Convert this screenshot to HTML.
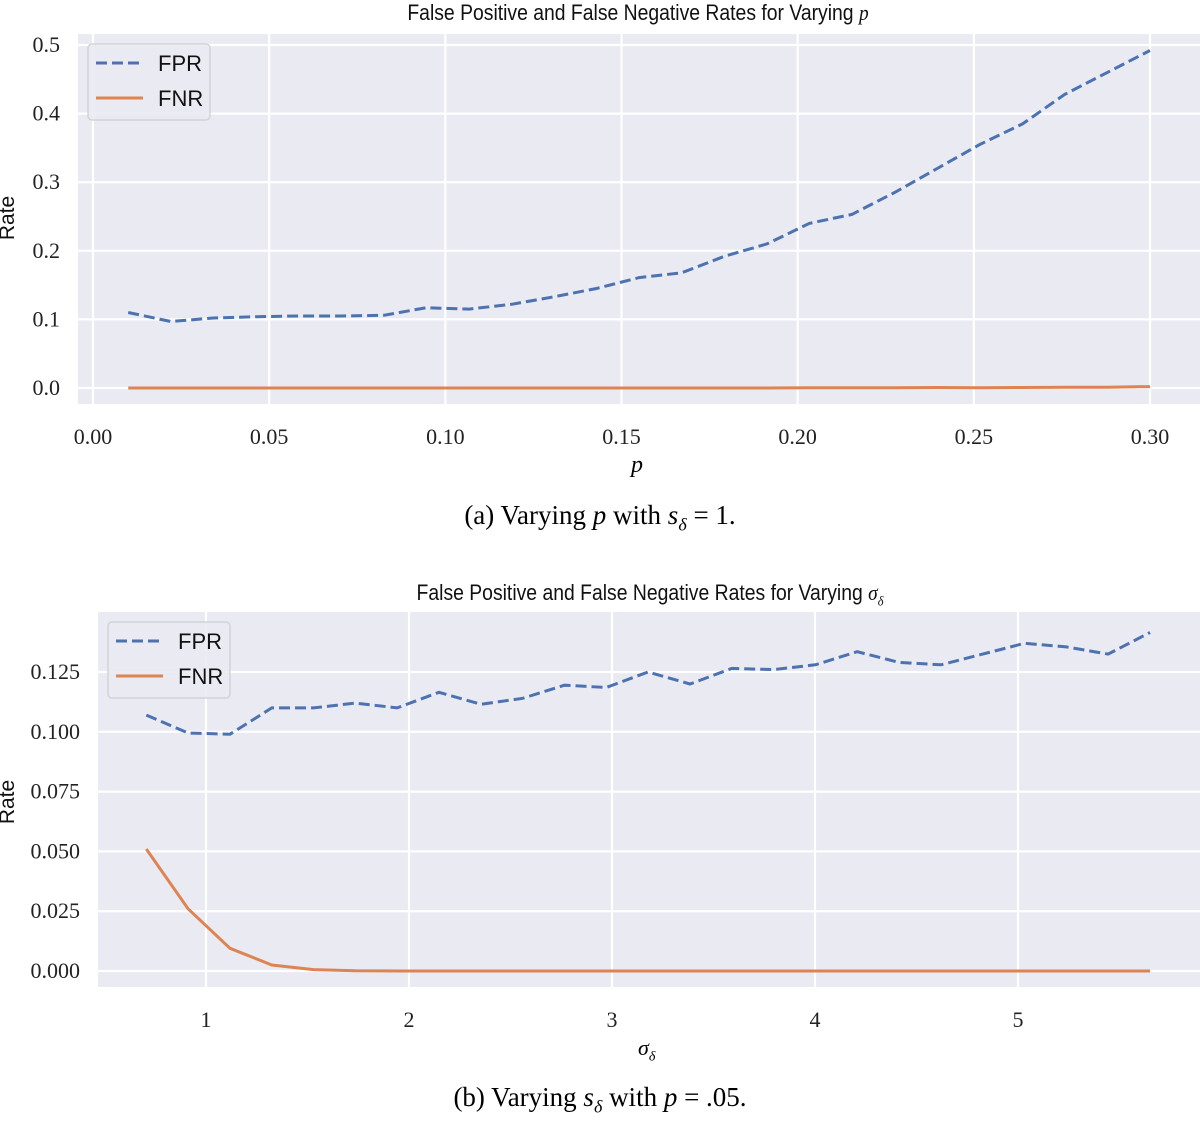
<!DOCTYPE html>
<html><head><meta charset="utf-8"><style>
body{margin:0;background:#fff;width:1200px;height:1117px;overflow:hidden}
svg text{font-family:"Liberation Serif",serif}
.sans{font-family:"Liberation Sans",sans-serif}
</style></head><body>
<svg id="svg" width="1200" height="1117" xmlns="http://www.w3.org/2000/svg"></svg>
<script>
// Chart A data
const aX=[0.01,0.0221,0.0342,0.0463,0.0583,0.0704,0.0825,0.0946,0.1067,0.1188,0.1308,0.1429,0.155,0.1671,0.1792,0.1913,0.2033,0.2154,0.2275,0.2396,0.2517,0.2638,0.2758,0.2879,0.30];
const aFPR=[0.110,0.097,0.102,0.104,0.105,0.105,0.106,0.117,0.115,0.122,0.133,0.145,0.161,0.168,0.192,0.210,0.240,0.253,0.285,0.320,0.355,0.385,0.428,0.460,0.492];
const aFNR=[0,0,0,0,0,0,0,0,0,0,0,0,0,0,0,0,0.0003,0.0003,0.0005,0.0008,0.0005,0.0008,0.001,0.0012,0.002];
const aXTicks=[0,0.05,0.10,0.15,0.20,0.25,0.30];
const aXLabels=["0.00","0.05","0.10","0.15","0.20","0.25","0.30"];
const aYTicks=[0,0.1,0.2,0.3,0.4,0.5];
const aYLabels=["0.0","0.1","0.2","0.3","0.4","0.5"];
// Chart B data
const bX=[0.706,0.912,1.118,1.324,1.530,1.736,1.942,2.148,2.354,2.560,2.766,2.972,3.178,3.384,3.590,3.796,4.002,4.208,4.414,4.620,4.826,5.032,5.238,5.444,5.650];
const bFPR=[0.107,0.0995,0.099,0.110,0.110,0.112,0.110,0.1165,0.1115,0.114,0.1195,0.1185,0.125,0.120,0.1265,0.126,0.128,0.1335,0.129,0.128,0.1325,0.137,0.1355,0.1325,0.1415];
const bFNR=[0.051,0.026,0.0095,0.0025,0.0006,0.0001,0,0,0,0,0,0,0,0,0,0,0,0,0,0,0,0,0,0,0];
const bXTicks=[1,2,3,4,5];
const bXLabels=["1","2","3","4","5"];
const bYTicks=[0,0.025,0.05,0.075,0.1,0.125];
const bYLabels=["0.000","0.025","0.050","0.075","0.100","0.125"];

const NS="http://www.w3.org/2000/svg";
const svg=document.getElementById('svg');
function mk(tag,attrs,parent,name){const e=document.createElementNS(NS,tag);for(const k in attrs)e.setAttribute(k,attrs[k]);(parent||svg).appendChild(e);


return e;}
function txt(s,attrs,name){const e=mk('text',attrs,svg,name);e.textContent=s;return e;}

function chart(o){
  const sx=v=>o.x0px+(v-o.x0)*(o.x1px-o.x0px)/(o.x1-o.x0);
  const sy=v=>o.y0px+(v-o.y0)*(o.y1px-o.y0px)/(o.y1-o.y0);
  mk('rect',{x:o.L,y:o.T,width:o.R-o.L,height:o.B-o.T,fill:'#eaeaf2'},svg,o.p+'plot-area');
  o.xt.forEach((t,i)=>{const x=sx(t);mk('line',{x1:x,x2:x,y1:o.T,y2:o.B,stroke:'#fff','stroke-width':2.2},svg,o.p+'x-grid');
    txt(o.xl[i],{x:x,y:o.B+40,'text-anchor':'middle','font-size':22,fill:'#222'},o.p+'x-tick-label');});
  o.yt.forEach((t,i)=>{const y=sy(t);mk('line',{x1:o.L,x2:o.R,y1:y,y2:y,stroke:'#fff','stroke-width':2.2},svg,o.p+'y-grid');
    txt(o.yl[i],{x:o.L-18,y:y+7,'text-anchor':'end','font-size':22,fill:'#222'},o.p+'y-tick-label');});
  const path=(xs,ys)=>xs.map((v,i)=>(i?'L':'M')+sx(v).toFixed(1)+','+sy(ys[i]).toFixed(1)).join(' ');
  mk('path',{d:path(o.xs,o.fnr),fill:'none',stroke:'#dd8452','stroke-width':3},svg,o.p+'fnr-line');
  mk('path',{d:path(o.xs,o.fpr),fill:'none',stroke:'#4c72b0','stroke-width':3,'stroke-dasharray':'11,5'},svg,o.p+'fpr-line');
  const lx=o.L+10,ly=o.T+10;
  mk('rect',{x:lx,y:ly,width:122,height:76,rx:4,fill:'#eaeaf2',stroke:'#d0d0d8','stroke-width':1.5,opacity:0.9},svg,o.p+'legend');
  mk('line',{x1:lx+8,x2:lx+55,y1:ly+19,y2:ly+19,stroke:'#4c72b0','stroke-width':3,'stroke-dasharray':'11,5'},svg,o.p+'legend-fpr-swatch');
  txt('FPR',{x:lx+70,y:ly+27,'font-size':22,class:'sans',fill:'#111'},o.p+'legend-fpr-label');
  mk('line',{x1:lx+8,x2:lx+55,y1:ly+54,y2:ly+54,stroke:'#dd8452','stroke-width':3},svg,o.p+'legend-fnr-swatch');
  txt('FNR',{x:lx+70,y:ly+62,'font-size':22,class:'sans',fill:'#111'},o.p+'legend-fnr-label');
}
chart({p:'a-',L:78,R:1200,T:34,B:404,x0:0,x1:0.30,x0px:93,x1px:1150,y0:0,y1:0.5,y0px:388,y1px:45,
  xt:aXTicks,xl:aXLabels,yt:aYTicks,yl:aYLabels,xs:aX,fpr:aFPR,fnr:aFNR});
chart({p:'b-',L:98,R:1200,T:612,B:987,x0:1,x1:5,x0px:206,x1px:1018,y0:0,y1:0.125,y0px:971,y1px:672,
  xt:bXTicks,xl:bXLabels,yt:bYTicks,yl:bYLabels,xs:bX,fpr:bFPR,fnr:bFNR});
</script>
<div style="position:absolute;left:0;top:0;width:1200px;height:1117px;pointer-events:none;font-family:'Liberation Sans',sans-serif">
<div style="position:absolute;left:0;width:1276px;top:0;text-align:center;font-size:22px;color:#111;transform:scaleX(0.88);transform-origin:638px 0">False Positive and False Negative Rates for Varying <i style="font-family:'Liberation Serif',serif">p</i></div>
<div style="position:absolute;left:-14px;top:206px;font-size:21px;transform:rotate(-90deg);color:#111">Rate</div>
<div style="position:absolute;left:631px;top:452px;font-size:24px;font-style:italic;font-family:'Liberation Serif',serif">p</div>
<div style="position:absolute;left:0;width:1200px;top:500px;text-align:center;font-size:27px;font-family:'Liberation Serif',serif">(a) Varying <i>p</i> with <i>s</i><sub style="font-size:18px"><i>δ</i></sub> = 1.</div>
<div style="position:absolute;left:0;width:1300px;top:580px;text-align:center;font-size:22px;color:#111;transform:scaleX(0.88);transform-origin:650px 0">False Positive and False Negative Rates for Varying <i style="font-family:'Liberation Serif',serif">σ<sub style="font-size:14px">δ</sub></i></div>
<div style="position:absolute;left:-14px;top:790px;font-size:21px;transform:rotate(-90deg);color:#111">Rate</div>
<div style="position:absolute;left:638px;top:1035px;font-size:22px;font-style:italic;font-family:'Liberation Serif',serif">σ<sub style="font-size:14px">δ</sub></div>
<div style="position:absolute;left:0;width:1200px;top:1082px;text-align:center;font-size:27px;font-family:'Liberation Serif',serif">(b) Varying <i>s</i><sub style="font-size:18px"><i>δ</i></sub> with <i>p</i> = .05.</div>
</div>
</body></html>
